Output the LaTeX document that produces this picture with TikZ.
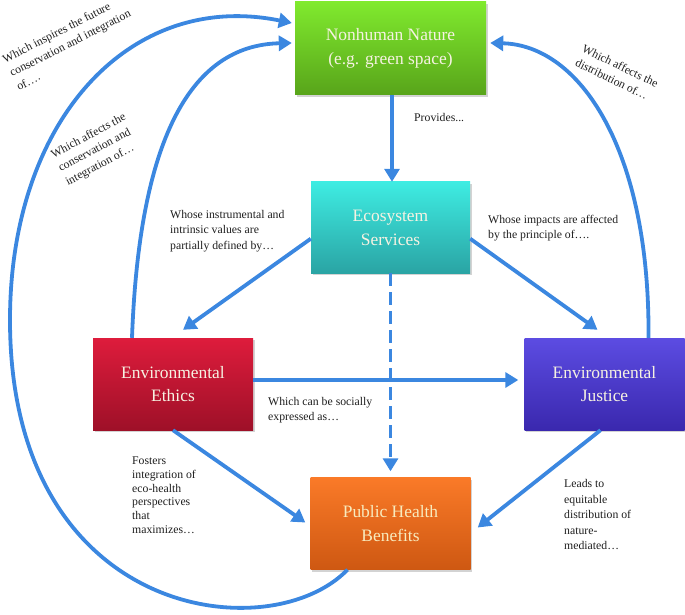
\documentclass[tikz,border=0pt]{standalone}
\usepackage{fontspec}
\setmainfont{Liberation Serif}
\usetikzlibrary{arrows.meta,shadows,calc}
\definecolor{arrowblue}{HTML}{3B87E0}
\definecolor{boxtext}{HTML}{F6F2E2}
\definecolor{phbtext}{HTML}{F8EBBE}
\definecolor{natTop}{HTML}{80EA2E}
\definecolor{natBot}{HTML}{58A41A}
\definecolor{ecoTop}{HTML}{3EECE2}
\definecolor{ecoBot}{HTML}{2AA4A4}
\definecolor{ethTop}{HTML}{DE1C3C}
\definecolor{ethBot}{HTML}{9E1028}
\definecolor{jusTop}{HTML}{5C4CE2}
\definecolor{jusBot}{HTML}{3A28AE}
\definecolor{phbTop}{HTML}{FA7A28}
\definecolor{phbBot}{HTML}{CE5812}
\begin{document}
\begin{tikzpicture}[x=1bp,y=-1bp,
  box/.style={rectangle, inner sep=0pt, text=boxtext, align=center,
    minimum width=160bp, minimum height=92bp,
    font=\fontsize{17.5}{24}\selectfont,
    drop shadow={shadow xshift=1.5bp,shadow yshift=-2bp,opacity=0.35}},
  arr/.style={draw=arrowblue, line width=3.8bp, -{Triangle[length=13bp,width=15bp]}},
  lbl/.style={inner sep=0pt, align=left, text=black!88,
    font=\fontsize{11.8}{15.5}\selectfont},
]
\useasboundingbox (0,0) rectangle (685,615);

% boxes
\node[box, minimum width=191bp, minimum height=93bp, top color=natTop, bottom color=natBot] (nat) at (390.5,48.5) {Nonhuman Nature\\(e.g. green space)};
\node[box, minimum width=159bp, minimum height=91bp, top color=ecoTop, bottom color=ecoBot] (eco) at (390.5,227.5) {Ecosystem\\Services};
\node[box, top color=ethTop, bottom color=ethBot] (eth) at (173,384) {Environmental\\Ethics};
\node[box, top color=jusTop, bottom color=jusBot] (jus) at (604.5,384) {Environmental\\Justice};
\node[box, text=phbtext, top color=phbTop, bottom color=phbBot] (phb) at (390.5,523.5) {Public Health\\Benefits};

% straight connectors
\draw[arr] ([xshift=1.5bp]nat.south) -- ([xshift=1.5bp]eco.north);
\draw[arr] (eco.188) -- ([xshift=10bp,yshift=8bp]eth.north);
\draw[arr] (eco.352) -- ([xshift=-7bp,yshift=8bp]jus.north);
\draw[arr, dash pattern=on 13bp off 6bp] (eco.south) -- ([yshift=6bp]phb.north);
\draw[arr] ([yshift=4bp]eth.east) -- ([xshift=-6bp,yshift=4bp]jus.west);
\draw[arr] (eth.south) -- ([xshift=-5bp,yshift=1bp]phb.west);
\draw[arr] ([xshift=-4bp]jus.south) -- ([xshift=7bp,yshift=-4bp]phb.east);

% curved connectors
\draw[arr] ([xshift=-41bp]eth.north) .. controls (140,120) and (200,45) .. ([xshift=-3bp,yshift=5.5bp]nat.west);
\draw[arr] ([xshift=-43bp]phb.south) .. controls (270,650) and (10,620) .. (10,320)
  .. controls (10,120) and (130,-10) .. ([xshift=-3bp,yshift=25.5bp]nat.west);
\draw[arr] ([xshift=44bp]jus.north) .. controls (650,150) and (580,45) .. ([xshift=4bp,yshift=5.5bp]nat.east);

% labels
\node[lbl, anchor=north west] (lprov) at (414,113) {Provides...};
\node[lbl, anchor=north west] (linst) at (170,210) {Whose instrumental and\\intrinsic values are\\partially defined by…};
\node[lbl, anchor=north west] (limp) at (488,215) {Whose impacts are affected\\by the principle of….};
\node[lbl, anchor=north west] (lsoc) at (268,397) {Which can be socially\\expressed as…};
\node[lbl, anchor=north west, font=\fontsize{11.8}{13.7}\selectfont] (lfos) at (132,457) {Fosters\\integration of\\eco-health\\perspectives\\that\\maximizes…};
\node[lbl, anchor=north west, font=\fontsize{11.8}{15.7}\selectfont] (llead) at (564,479) {Leads to\\equitable\\distribution of\\nature-\\mediated…};
\node[lbl, rotate=27] (linsp) at (70,43) {Which inspires the future\\conservation and integration\\of….};
\node[lbl, rotate=28] (laff) at (96,150) {Which affects the\\conservation and\\integration of…};
\node[lbl, rotate=-26] (ldist) at (617,73) {Which affects the\\distribution of…};
\end{tikzpicture}
\end{document}
